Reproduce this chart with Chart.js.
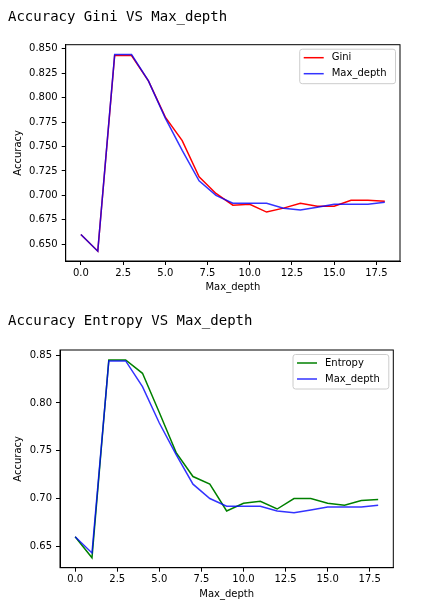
<!DOCTYPE html>
<html>
<head>
<meta charset="utf-8">
<script src="https://cdn.jsdelivr.net/npm/chart.js@4.4.1/dist/chart.umd.min.js"></script>
<style>
  body { margin: 0; background: #fff; }
  canvas { position: absolute; left: 0; }
  #giniChart { top: 0; }
  #entropyChart { top: 300px; }
</style>
</head>
<body>
<canvas id="giniChart" width="446" height="300"></canvas>
<canvas id="entropyChart" width="446" height="310"></canvas>
<script>
// values
let depths = [0, 1, 2, 3, 4, 5, 6, 7, 8, 9, 10, 11, 12, 13, 14, 15, 16, 17, 18];
let giniAcc = [0.660, 0.643, 0.843, 0.843, 0.817, 0.780, 0.756, 0.719, 0.702, 0.690, 0.691, 0.683, 0.687, 0.692, 0.689, 0.689, 0.695, 0.695, 0.694];
let entropyAcc = [0.660, 0.638, 0.845, 0.845, 0.831, 0.790, 0.748, 0.723, 0.715, 0.687, 0.695, 0.697, 0.689, 0.700, 0.700, 0.695, 0.693, 0.698, 0.699];
let maxDepthAcc = [0.660, 0.643, 0.844, 0.844, 0.817, 0.779, 0.746, 0.715, 0.700, 0.692, 0.692, 0.692, 0.687, 0.685, 0.688, 0.691, 0.691, 0.691, 0.693];
let xTicks = [0, 2.5, 5, 7.5, 10, 12.5, 15, 17.5];
let giniTicks = [0.650, 0.675, 0.700, 0.725, 0.750, 0.775, 0.800, 0.825, 0.850];
let entropyTicks = [0.65, 0.70, 0.75, 0.80, 0.85];

Chart.defaults.font.family = '"DejaVu Sans", sans-serif';
Chart.defaults.font.size = 10;
Chart.defaults.color = '#000';

// matplotlib-ish legend box in the upper right, plus the four spines
const boxLegend = {
  id: 'boxLegend',
  afterDraw(chart) {
    const a = chart.chartArea, ctx = chart.ctx;
    ctx.save();
    ctx.strokeStyle = '#000';
    ctx.lineWidth = 1;
    ctx.strokeRect(a.left, a.top, a.right - a.left, a.bottom - a.top);

    ctx.font = '10px "DejaVu Sans"';
    const sets = chart.data.datasets;
    const textW = Math.max(...sets.map(d => ctx.measureText(d.label).width));
    const w = 32 + textW + 9, h = 34.5;
    const x = a.right - 4.5 - w, y = a.top + 4.5;
    ctx.fillStyle = 'rgba(255,255,255,0.8)';
    ctx.strokeStyle = '#cccccc';
    ctx.beginPath();
    ctx.roundRect(x, y, w, h, 2.5);
    ctx.fill();
    ctx.stroke();
    sets.forEach((d, i) => {
      const cy = y + 8.5 + i * 16;
      ctx.strokeStyle = d.borderColor;
      ctx.lineWidth = 1.5;
      ctx.beginPath();
      ctx.moveTo(x + 4, cy);
      ctx.lineTo(x + 24, cy);
      ctx.stroke();
      ctx.fillStyle = '#000';
      ctx.textBaseline = 'middle';
      ctx.fillText(d.label, x + 32, cy);
    });
    ctx.restore();
  }
};

function makeChart(id, title, mainLabel, mainValues, mainColor, yMin, yMax, yTicks, digits, geo) {
  return new Chart(document.getElementById(id), {
    type: 'line',
    data: {
      labels: depths,
      datasets: [
        { label: mainLabel, data: mainValues, borderColor: mainColor, order: 1 },
        { label: 'Max_depth', data: maxDepthAcc, borderColor: 'rgba(0,0,255,0.8)', order: 0 }
      ]
    },
    options: {
      responsive: false,
      animation: false,
      layout: { padding: { left: 8, right: geo.right, top: 0, bottom: 0 } },
      elements: {
        line: { borderWidth: 1.5, tension: 0, fill: false },
        point: { radius: 0 }
      },
      plugins: {
        legend: { display: false },
        tooltip: { enabled: false },
        title: {
          display: true,
          text: title,
          align: 'start',
          color: '#000',
          font: { family: '"DejaVu Sans Mono", monospace', size: 14, weight: 'normal' },
          padding: { top: geo.titleTop, bottom: geo.titleBottom }
        }
      },
      scales: {
        x: {
          type: 'linear',
          min: -0.9,
          max: 18.9,
          afterBuildTicks: s => { s.ticks = xTicks.map(v => ({ value: v })); },
          afterFit: s => { s.height = geo.xHeight; },
          ticks: { callback: v => v.toFixed(1), padding: 2, maxRotation: 0, autoSkip: false },
          grid: { drawOnChartArea: false, tickLength: 4, color: '#000' },
          border: { color: '#000' },
          title: { display: true, text: 'Max_depth', padding: { top: 0, bottom: geo.xTitlePad } }
        },
        y: {
          min: yMin,
          max: yMax,
          afterBuildTicks: s => { s.ticks = yTicks.map(v => ({ value: v })); },
          afterFit: s => { s.width = geo.yWidth; },
          ticks: { callback: v => v.toFixed(digits), padding: 4, autoSkip: false },
          grid: { drawOnChartArea: false, tickLength: 4, color: '#000' },
          border: { color: '#000' },
          title: { display: true, text: 'Accuracy', padding: { top: 4.5, bottom: 0 } }
        }
      }
    },
    plugins: [boxLegend]
  });
}

makeChart('giniChart', 'Accuracy Gini VS Max_depth', 'Gini', giniAcc, '#ff0000',
  0.633, 0.854, giniTicks, 3,
  { right: 46, titleTop: 8.6, titleBottom: 19.3, xHeight: 39, xTitlePad: 6.7, yWidth: 57.7 });

makeChart('entropyChart', 'Accuracy Entropy VS Max_depth', 'Entropy', entropyAcc, '#008000',
  0.6276, 0.8554, entropyTicks, 2,
  { right: 52.7, titleTop: 12.6, titleBottom: 20.6, xHeight: 42.3, xTitlePad: 10, yWidth: 52 });
</script>
</body>
</html>
